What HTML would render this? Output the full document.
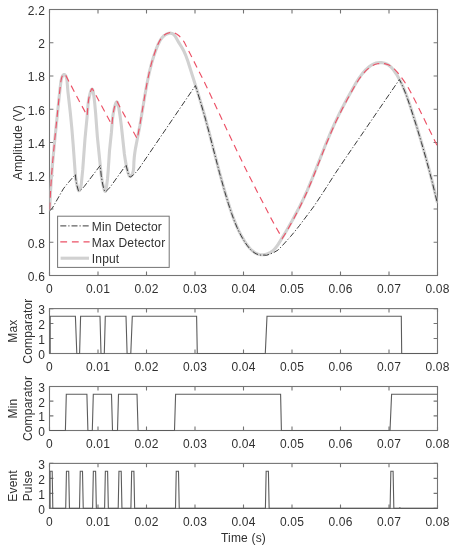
<!DOCTYPE html>
<html><head><meta charset="utf-8"><title>Detector plot</title>
<style>
html,body{margin:0;padding:0;background:#fff;width:455px;height:550px;overflow:hidden}
svg{display:block}

.ax{fill:none;stroke:#747474;stroke-width:1.1}

</style></head><body>
<svg width="455" height="550" viewBox="0 0 455 550">
<rect width="455" height="550" fill="#fff"/>
<path class="ax" d="M49.50,275.50V271.60M49.50,9.50V13.40M98.00,275.50V271.60M98.00,9.50V13.40M146.50,275.50V271.60M146.50,9.50V13.40M195.00,275.50V271.60M195.00,9.50V13.40M243.50,275.50V271.60M243.50,9.50V13.40M292.00,275.50V271.60M292.00,9.50V13.40M340.50,275.50V271.60M340.50,9.50V13.40M389.00,275.50V271.60M389.00,9.50V13.40M437.50,275.50V271.60M437.50,9.50V13.40M49.50,275.50H53.40M437.50,275.50H433.60M49.50,242.25H53.40M437.50,242.25H433.60M49.50,209.00H53.40M437.50,209.00H433.60M49.50,175.75H53.40M437.50,175.75H433.60M49.50,142.50H53.40M437.50,142.50H433.60M49.50,109.25H53.40M437.50,109.25H433.60M49.50,76.00H53.40M437.50,76.00H433.60M49.50,42.75H53.40M437.50,42.75H433.60M49.50,9.50H53.40M437.50,9.50H433.60"/>
<rect class="ax" x="49.50" y="9.50" width="388.00" height="266.00"/>
<path class="ax" d="M49.50,353.50V349.60M49.50,308.60V312.50M98.00,353.50V349.60M98.00,308.60V312.50M146.50,353.50V349.60M146.50,308.60V312.50M195.00,353.50V349.60M195.00,308.60V312.50M243.50,353.50V349.60M243.50,308.60V312.50M292.00,353.50V349.60M292.00,308.60V312.50M340.50,353.50V349.60M340.50,308.60V312.50M389.00,353.50V349.60M389.00,308.60V312.50M437.50,353.50V349.60M437.50,308.60V312.50M49.50,353.50H53.40M437.50,353.50H433.60M49.50,338.53H53.40M437.50,338.53H433.60M49.50,323.57H53.40M437.50,323.57H433.60M49.50,308.60H53.40M437.50,308.60H433.60"/>
<rect class="ax" x="49.50" y="308.60" width="388.00" height="44.90"/>
<path class="ax" d="M49.50,430.50V426.60M49.50,386.50V390.40M98.00,430.50V426.60M98.00,386.50V390.40M146.50,430.50V426.60M146.50,386.50V390.40M195.00,430.50V426.60M195.00,386.50V390.40M243.50,430.50V426.60M243.50,386.50V390.40M292.00,430.50V426.60M292.00,386.50V390.40M340.50,430.50V426.60M340.50,386.50V390.40M389.00,430.50V426.60M389.00,386.50V390.40M437.50,430.50V426.60M437.50,386.50V390.40M49.50,430.50H53.40M437.50,430.50H433.60M49.50,415.83H53.40M437.50,415.83H433.60M49.50,401.17H53.40M437.50,401.17H433.60M49.50,386.50H53.40M437.50,386.50H433.60"/>
<rect class="ax" x="49.50" y="386.50" width="388.00" height="44.00"/>
<path class="ax" d="M49.50,508.40V504.50M49.50,463.40V467.30M98.00,508.40V504.50M98.00,463.40V467.30M146.50,508.40V504.50M146.50,463.40V467.30M195.00,508.40V504.50M195.00,463.40V467.30M243.50,508.40V504.50M243.50,463.40V467.30M292.00,508.40V504.50M292.00,463.40V467.30M340.50,508.40V504.50M340.50,463.40V467.30M389.00,508.40V504.50M389.00,463.40V467.30M437.50,508.40V504.50M437.50,463.40V467.30M49.50,508.40H53.40M437.50,508.40H433.60M49.50,493.40H53.40M437.50,493.40H433.60M49.50,478.40H53.40M437.50,478.40H433.60M49.50,463.40H53.40M437.50,463.40H433.60"/>
<rect class="ax" x="49.50" y="463.40" width="388.00" height="45.00"/>
<clipPath id="c1"><rect x="49.50" y="9.50" width="388.00" height="266.00"/></clipPath>
<g clip-path="url(#c1)">
<path d="M49.70,209.78 L50.34,194.91 L51.35,178.93 L52.74,161.51 L54.63,141.28 L59.19,96.55 L60.67,83.48 L61.10,80.49 L61.59,78.35 L62.17,76.70 L62.94,75.28 L63.48,74.69 L64.05,74.44 L64.64,74.61 L65.22,75.12 L65.74,75.87 L66.29,77.07 L66.94,79.83 L67.94,91.82 L70.29,112.50 L71.84,128.37 L73.14,144.38 L75.36,174.99 L75.88,179.24 L76.46,182.77 L77.23,186.30 L78.12,189.42 L78.46,190.24 L78.82,190.74 L79.21,190.77 L79.62,190.34 L80.13,189.28 L80.57,187.93 L81.25,184.53 L82.75,169.42 L84.99,138.82 L87.05,117.45 L88.09,103.88 L88.88,98.59 L90.05,93.55 L91.23,90.13 L91.69,89.38 L92.12,89.14 L92.41,89.33 L92.76,90.01 L93.30,92.13 L93.87,95.87 L94.71,103.11 L95.64,113.29 L97.37,136.87 L101.25,175.22 L102.14,180.99 L103.43,187.00 L104.48,190.48 L104.90,191.24 L105.28,191.44 L105.55,191.18 L105.80,190.63 L106.31,188.44 L107.51,178.73 L108.22,170.46 L109.49,150.92 L111.39,132.67 L112.53,118.65 L113.14,114.32 L113.96,109.82 L114.77,106.29 L115.65,103.49 L116.09,102.55 L116.53,102.02 L116.84,101.93 L117.25,102.26 L117.63,103.04 L118.08,104.50 L118.90,108.49 L120.16,116.60 L121.25,124.88 L124.38,154.03 L125.37,160.64 L126.51,166.57 L128.08,172.82 L129.13,175.68 L129.69,176.40 L130.17,176.58 L130.71,176.39 L131.46,175.64 L132.55,173.66 L133.29,171.02 L133.68,167.75 L133.93,161.64 L134.24,157.55 L134.75,153.20 L135.46,148.61 L139.89,125.47 L144.87,95.53 L146.87,84.30 L149.14,73.21 L151.51,63.61 L153.63,56.46 L155.99,49.67 L158.31,43.94 L160.31,40.12 L161.30,38.66 L162.40,37.31 L163.65,36.09 L164.75,35.22 L166.28,34.29 L167.63,33.70 L169.02,33.30 L170.38,33.15 L171.94,33.43 L173.31,34.21 L174.52,35.40 L175.82,37.20 L178.87,42.70 L181.87,47.46 L183.53,50.48 L185.70,55.25 L187.80,60.92 L198.10,93.63 L204.16,114.01 L209.01,131.85 L219.55,172.58 L224.68,191.07 L229.67,207.30 L231.93,213.99 L234.11,219.95 L236.51,225.84 L238.89,231.01 L241.54,236.11 L244.32,240.82 L247.00,244.81 L249.49,247.96 L251.96,250.48 L254.67,252.54 L256.12,253.35 L257.64,254.00 L259.23,254.46 L260.89,254.72 L262.28,254.77 L264.07,254.64 L265.88,254.30 L267.66,253.77 L270.67,252.37 L273.24,250.47 L275.65,247.92 L278.31,244.15 L285.57,232.23 L292.13,220.79 L298.00,209.82 L303.18,199.32 L307.30,190.28 L311.45,180.47 L325.56,144.75 L331.57,130.32 L334.92,122.86 L338.28,115.81 L342.12,108.19 L346.44,100.02 L351.76,90.38 L356.35,82.37 L359.40,77.59 L362.36,73.60 L365.95,69.61 L369.50,66.49 L371.28,65.25 L372.83,64.36 L374.45,63.62 L376.12,63.05 L377.85,62.68 L379.63,62.53 L381.43,62.59 L383.55,62.92 L385.59,63.54 L387.19,64.26 L388.67,65.16 L390.32,66.45 L391.83,67.91 L393.46,69.80 L396.56,74.25 L399.95,80.16 L403.01,86.57 L406.07,94.15 L409.35,103.54 L415.26,121.80 L420.76,139.83 L425.29,155.55 L429.50,170.99 L433.47,186.50 L437.11,201.72" fill="none" stroke="#d1d1d1" stroke-width="3.1" stroke-linejoin="round" stroke-linecap="round"/>
<path d="M49.60,209.28 L49.70,209.28 L50.55,190.69 L51.50,176.36 L52.90,159.21 L54.75,139.57 L59.20,95.96 L60.70,82.70 L61.10,80.01 L61.60,77.82 L62.20,76.13 L62.90,74.83 L63.65,74.08 L64.25,73.95 L65.00,74.39 L65.75,75.39 L79.95,102.36 L87.15,115.66 L87.95,104.69 L88.70,99.09 L89.50,95.20 L90.40,91.85 L91.20,89.69 L91.90,88.69 L92.25,88.69 L92.55,89.04 L111.90,125.03 L112.75,116.45 L113.40,112.28 L114.20,108.20 L115.00,104.96 L115.75,102.75 L116.45,101.58 L116.75,101.43 L117.05,101.54 L137.20,138.85 L140.00,124.35 L145.15,93.39 L147.55,80.26 L150.35,67.57 L151.85,61.90 L153.45,56.53 L155.50,50.50 L157.75,44.72 L159.40,41.20 L161.10,38.43 L163.10,36.09 L165.35,34.32 L167.60,33.21 L171.00,32.20 L174.40,32.90 L177.00,34.30 L179.30,36.00 L181.80,38.60 L184.20,42.10 L204.80,82.90 L229.00,134.20 L243.40,164.30 L249.00,175.60 L258.70,194.60 L263.30,203.20 L270.80,217.90 L275.60,226.60 L282.30,238.30 L284.50,235.04 L285.95,232.59 L293.50,219.30 L299.15,208.56 L304.25,198.04 L308.00,189.66 L312.00,180.14 L325.05,147.03 L330.40,134.03 L336.10,121.34 L342.60,108.27 L347.65,98.80 L353.65,88.02 L356.90,82.47 L359.60,78.30 L362.60,74.30 L365.70,70.85 L368.90,67.96 L371.90,65.88 L374.75,64.50 L377.50,63.74 L379.65,63.53 L384.70,63.60 L388.40,64.80 L391.30,66.20 L394.20,68.80 L397.50,72.30 L401.10,77.00 L404.40,81.60 L407.60,86.60 L410.60,92.00 L413.60,97.70 L418.50,107.50 L437.50,146.30" fill="none" stroke="#ec5166" stroke-width="1.15" stroke-dasharray="6.8 4.8"/>
<path d="M49.90,210.70 L52.40,208.00 L63.30,188.90 L66.40,184.90 L73.40,176.70 L75.50,174.40 L75.65,177.96 L76.20,181.72 L76.85,185.07 L78.25,190.18 L78.70,191.02 L78.95,191.21 L79.20,191.17 L81.75,189.15 L84.35,186.36 L100.00,165.75 L100.25,165.57 L101.20,175.18 L102.25,181.96 L103.10,186.02 L103.95,189.33 L104.60,191.14 L104.90,191.64 L105.20,191.85 L106.30,191.09 L107.75,189.79 L110.45,186.73 L126.05,164.94 L128.10,173.29 L128.75,175.26 L129.40,176.50 L130.00,176.96 L130.50,176.91 L132.00,175.95 L133.50,174.77 L136.45,171.81 L139.40,167.99 L195.45,85.60 L200.90,103.23 L205.50,119.20 L209.55,134.31 L219.45,172.62 L225.05,192.75 L228.35,203.59 L231.60,213.45 L234.35,220.96 L237.10,227.57 L239.05,231.73 L241.00,235.52 L243.15,239.30 L245.30,242.74 L247.25,245.56 L249.25,248.09 L251.20,250.17 L253.00,251.75 L254.95,253.11 L256.70,254.02 L258.60,254.70 L260.55,255.08 L262.30,255.17 L264.00,255.05 L266.50,255.30 L270.40,253.90 L274.20,252.30 L278.10,250.00 L282.00,246.00 L290.40,236.70 L295.00,231.20 L299.60,225.40 L313.50,206.90 L322.70,193.10 L335.40,173.20 L348.10,154.40 L399.40,79.53 L401.25,83.15 L403.00,86.94 L406.45,95.58 L410.55,107.56 L416.35,125.69 L421.45,142.56 L426.25,159.38 L431.90,180.66 L437.10,202.06 L437.50,202.12" fill="none" stroke="#3a3a3a" stroke-width="1" stroke-dasharray="6 2 1.2 2"/>
</g>
<path d="M50.20,353.50 L50.20,316.30 L75.40,316.30 L76.80,353.50 L79.60,353.50 L80.60,316.30 L100.00,316.30 L101.00,353.50 L104.30,353.50 L105.30,316.30 L126.00,316.30 L127.10,353.50 L130.80,353.50 L132.30,316.30 L196.60,316.30 L197.30,353.50 L265.30,353.50 L267.00,316.30 L401.30,316.30 L401.70,353.50 L437.50,353.50" fill="none" stroke="#5c5c5c" stroke-width="1.1"/>
<path d="M49.50,430.50 L65.40,430.50 L66.30,394.30 L86.90,394.30 L87.90,430.50 L92.30,430.50 L93.30,394.30 L111.50,394.30 L112.50,430.50 L117.50,430.50 L118.50,394.30 L137.00,394.30 L138.10,430.50 L174.50,430.50 L175.60,394.30 L280.60,394.30 L281.40,430.50 L390.00,430.50 L391.60,394.30 L437.50,394.30" fill="none" stroke="#5c5c5c" stroke-width="1.1"/>
<path d="M50.10,508.40 L50.10,471.30 L52.20,471.30 L52.80,508.40 L65.70,508.40 L66.45,471.30 L68.70,471.30 L69.45,508.40 L79.50,508.40 L80.25,471.30 L82.50,471.30 L83.25,508.40 L92.60,508.40 L93.35,471.30 L95.60,471.30 L96.35,508.40 L104.60,508.40 L105.35,471.30 L107.60,471.30 L108.35,508.40 L118.20,508.40 L118.95,471.30 L121.20,471.30 L121.95,508.40 L130.90,508.40 L131.65,471.30 L133.90,471.30 L134.65,508.40 L175.50,508.40 L176.25,471.30 L178.50,471.30 L179.25,508.40 L265.40,508.40 L266.15,471.30 L268.40,471.30 L269.15,508.40 L390.10,508.40 L390.85,471.30 L393.10,471.30 L393.85,508.40 L399.00,508.40 L399.90,507.70 L400.80,508.40 L437.50,508.40" fill="none" stroke="#5c5c5c" stroke-width="1.1"/>
<g font-family="&quot;Liberation Sans&quot;, Arial, Helvetica, sans-serif" font-size="12" letter-spacing="0.18" fill="#303030">
<text x="45" y="280.90" text-anchor="end">0.6</text>
<text x="45" y="247.65" text-anchor="end">0.8</text>
<text x="45" y="214.40" text-anchor="end">1</text>
<text x="45" y="181.15" text-anchor="end">1.2</text>
<text x="45" y="147.90" text-anchor="end">1.4</text>
<text x="45" y="114.65" text-anchor="end">1.6</text>
<text x="45" y="81.40" text-anchor="end">1.8</text>
<text x="45" y="48.15" text-anchor="end">2</text>
<text x="45" y="14.90" text-anchor="end">2.2</text>
<text x="49.50" y="293.20" text-anchor="middle">0</text>
<text x="98.00" y="293.20" text-anchor="middle">0.01</text>
<text x="146.50" y="293.20" text-anchor="middle">0.02</text>
<text x="195.00" y="293.20" text-anchor="middle">0.03</text>
<text x="243.50" y="293.20" text-anchor="middle">0.04</text>
<text x="292.00" y="293.20" text-anchor="middle">0.05</text>
<text x="340.50" y="293.20" text-anchor="middle">0.06</text>
<text x="389.00" y="293.20" text-anchor="middle">0.07</text>
<text x="437.50" y="293.20" text-anchor="middle">0.08</text>
<text x="45" y="358.90" text-anchor="end">0</text>
<text x="45" y="343.93" text-anchor="end">1</text>
<text x="45" y="328.97" text-anchor="end">2</text>
<text x="45" y="314.00" text-anchor="end">3</text>
<text x="49.50" y="371.20" text-anchor="middle">0</text>
<text x="98.00" y="371.20" text-anchor="middle">0.01</text>
<text x="146.50" y="371.20" text-anchor="middle">0.02</text>
<text x="195.00" y="371.20" text-anchor="middle">0.03</text>
<text x="243.50" y="371.20" text-anchor="middle">0.04</text>
<text x="292.00" y="371.20" text-anchor="middle">0.05</text>
<text x="340.50" y="371.20" text-anchor="middle">0.06</text>
<text x="389.00" y="371.20" text-anchor="middle">0.07</text>
<text x="437.50" y="371.20" text-anchor="middle">0.08</text>
<text x="45" y="435.90" text-anchor="end">0</text>
<text x="45" y="421.23" text-anchor="end">1</text>
<text x="45" y="406.57" text-anchor="end">2</text>
<text x="45" y="391.90" text-anchor="end">3</text>
<text x="49.50" y="448.20" text-anchor="middle">0</text>
<text x="98.00" y="448.20" text-anchor="middle">0.01</text>
<text x="146.50" y="448.20" text-anchor="middle">0.02</text>
<text x="195.00" y="448.20" text-anchor="middle">0.03</text>
<text x="243.50" y="448.20" text-anchor="middle">0.04</text>
<text x="292.00" y="448.20" text-anchor="middle">0.05</text>
<text x="340.50" y="448.20" text-anchor="middle">0.06</text>
<text x="389.00" y="448.20" text-anchor="middle">0.07</text>
<text x="437.50" y="448.20" text-anchor="middle">0.08</text>
<text x="45" y="513.80" text-anchor="end">0</text>
<text x="45" y="498.80" text-anchor="end">1</text>
<text x="45" y="483.80" text-anchor="end">2</text>
<text x="45" y="468.80" text-anchor="end">3</text>
<text x="49.50" y="526.10" text-anchor="middle">0</text>
<text x="98.00" y="526.10" text-anchor="middle">0.01</text>
<text x="146.50" y="526.10" text-anchor="middle">0.02</text>
<text x="195.00" y="526.10" text-anchor="middle">0.03</text>
<text x="243.50" y="526.10" text-anchor="middle">0.04</text>
<text x="292.00" y="526.10" text-anchor="middle">0.05</text>
<text x="340.50" y="526.10" text-anchor="middle">0.06</text>
<text x="389.00" y="526.10" text-anchor="middle">0.07</text>
<text x="437.50" y="526.10" text-anchor="middle">0.08</text>
<text transform="translate(22.3,142.5) rotate(-90)" text-anchor="middle">Amplitude (V)</text>
<text transform="translate(16.5,331.05) rotate(-90)" text-anchor="middle">Max</text>
<text transform="translate(32.2,331.05) rotate(-90)" text-anchor="middle">Comparator</text>
<text transform="translate(16.5,408.50) rotate(-90)" text-anchor="middle">Min</text>
<text transform="translate(32.2,408.50) rotate(-90)" text-anchor="middle">Comparator</text>
<text transform="translate(16.5,485.90) rotate(-90)" text-anchor="middle">Event</text>
<text transform="translate(32.2,485.90) rotate(-90)" text-anchor="middle">Pulse</text>
<text x="243.5" y="542" text-anchor="middle">Time (s)</text>
<rect x="57.6" y="216.2" width="111.6" height="51.2" fill="#fff" stroke="#747474" stroke-width="1"/>
<path d="M60.3,225.90H89.6" stroke="#3a3a3a" stroke-width="1" stroke-dasharray="6 2 1.2 2" fill="none"/>
<path d="M60.3,241.90H89.6" stroke="#ec5166" stroke-width="1.15" stroke-dasharray="6.8 4.8" fill="none"/>
<path d="M60.6,258.20H89.0" stroke="#d1d1d1" stroke-width="3.1" fill="none"/>
<text x="91.8" y="230.80">Min Detector</text>
<text x="91.8" y="247.20">Max Detector</text>
<text x="91.8" y="262.90">Input</text>
</g>
</svg>
</body></html>
